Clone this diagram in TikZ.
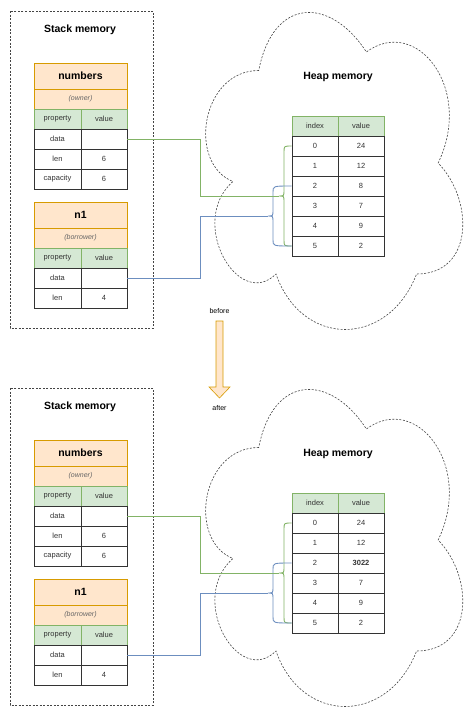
\documentclass[tikz,border=0pt]{standalone}
\usepackage{fontspec}
\setmainfont{Liberation Sans}
\definecolor{ofill}{HTML}{FFE6CC}
\definecolor{oline}{HTML}{D79B00}
\definecolor{gfill}{HTML}{D5E8D4}
\definecolor{gline}{HTML}{82B366}
\definecolor{bline}{HTML}{6C8EBF}
\definecolor{cellline}{HTML}{333333}
\definecolor{txt}{HTML}{333333}
\definecolor{rolegray}{HTML}{666666}
\definecolor{regline}{HTML}{444444}
\tikzset{
 cellbase/.style={draw=cellline, line width=0.7pt, minimum height=20pt, inner sep=0pt, font=\fontsize{7.5}{9}\selectfont, text=txt},
 cell/.style={cellbase, fill=white},
 hdr/.style={cellbase, fill=gfill, draw=gline},
 ttl/.style={cellbase, fill=ofill, draw=oline, minimum width=93pt, minimum height=26pt, font=\bfseries\fontsize{10.5}{12}\selectfont, text=black},
 role/.style={cellbase, fill=ofill, draw=oline, minimum width=93pt, font=\itshape\fontsize{7}{8}\selectfont, text=rolegray},
 lc/.style={minimum width=47pt},
 rc/.style={minimum width=46pt},
 hc/.style={minimum width=46pt},
 region/.style={draw=regline, dash pattern=on 2pt off 1.5pt, line width=0.6pt},
 regtitle/.style={font=\bfseries\fontsize{10.5}{12}\selectfont, inner sep=0pt},
 lbl/.style={font=\fontsize{7}{8}\selectfont, text=black, inner sep=0pt},
 gwire/.style={draw=gline, line width=0.9pt},
 bwire/.style={draw=bline, line width=0.9pt},
}
\newcommand\memhalf[1]{%
  % heap cloud
  \draw[region] (258.75,70.5) .. controls (201.35,70.5) and (187,163) .. (232.92,181.5)
    .. controls (187,222.2) and (238.66,311) .. (275.97,274)
    .. controls (301.8,348) and (387.9,348) .. (416.6,274)
    .. controls (474,274) and (474,200) .. (438.125,163)
    .. controls (474,89) and (416.6,15) .. (366.375,52)
    .. controls (330.5,-3.5) and (273.1,-3.5) .. (258.75,70.5) -- cycle;
  \node[regtitle] (heapt) at (338,77) {Heap memory};
  % stack region
  \draw[region] (10,11) rectangle (153,328);
  \node[regtitle] (stackt) at (80,30) {Stack memory};
  % numbers
  \node[ttl] (nt) at (80.5,76) {numbers};
  \node[role] (no) at (80.5,99) {(owner)};
  \node[hdr,lc] (nhp) at (57.5,119) {property};
  \node[hdr,rc] (nhv) at (104,119) {value};
  \node[cell,lc] (ndp) at (57.5,139) {data};
  \node[cell,rc] (ndv) at (104,139) {};
  \node[cell,lc] (nlp) at (57.5,159) {len};
  \node[cell,rc] (nlv) at (104,159) {6};
  \node[cell,lc] (ncp) at (57.5,179) {capacity};
  \node[cell,rc] (ncv) at (104,179) {6};
  % n1
  \node[ttl] (mt) at (80.5,215) {n1};
  \node[role] (mo) at (80.5,238) {(borrower)};
  \node[hdr,lc] (mhp) at (57.5,258) {property};
  \node[hdr,rc] (mhv) at (104,258) {value};
  \node[cell,lc] (mdp) at (57.5,278) {data};
  \node[cell,rc] (mdv) at (104,278) {};
  \node[cell,lc] (mlp) at (57.5,298) {len};
  \node[cell,rc] (mlv) at (104,298) {4};
  % heap table
  \node[hdr,hc] (hhi) at (315,126) {index};
  \node[hdr,hc] (hhv) at (361,126) {value};
  \node[cell,hc] (h0i) at (315,146) {0}; \node[cell,hc] (h0v) at (361,146) {24};
  \node[cell,hc] (h1i) at (315,166) {1}; \node[cell,hc] (h1v) at (361,166) {12};
  \node[cell,hc] (h2i) at (315,186) {2}; \node[cell,hc] (h2v) at (361,186) {#1};
  \node[cell,hc] (h3i) at (315,206) {3}; \node[cell,hc] (h3v) at (361,206) {7};
  \node[cell,hc] (h4i) at (315,226) {4}; \node[cell,hc] (h4v) at (361,226) {9};
  \node[cell,hc] (h5i) at (315,246) {5}; \node[cell,hc] (h5v) at (361,246) {2};
  % braces and wires
  \coordinate (gtip) at (279,196);
  \coordinate (btip) at (268,216);
  \draw[gwire] (h0i.west) .. controls (284,146) .. (284,152) -- (284,190)
     .. controls (284,196) .. (gtip) .. controls (284,196) .. (284,202) -- (284,240)
     .. controls (284,246) .. (h5i.west);
  \draw[bwire] (h2i.west) .. controls (273,186) .. (273,192) -- (273,210)
     .. controls (273,216) .. (btip) .. controls (273,216) .. (273,222) -- (273,240)
     .. controls (273,246) .. (h5i.west);
  \draw[gwire] (ndv.east) -- ++(73,0) |- (gtip);
  \draw[bwire] (mdv.east) -- ++(73,0) |- (btip);
}
\begin{document}
\begin{tikzpicture}[x=1pt,y=-1pt]
  \useasboundingbox (0,0) rectangle (474,718);
  \begin{scope}[name prefix=a-]
    \memhalf{8}
  \end{scope}
  \begin{scope}[yshift=-377pt, name prefix=b-]
    \memhalf{\textbf{3022}}
  \end{scope}
  \node[lbl] (bef) at (219.5,311) {before};
  \node[lbl] (aft) at (219.5,408) {after};
  \draw[fill=ofill, draw=oline, line width=0.6pt] (216,321) -- (223,321) -- (223,387) -- (230,387) -- (219.5,398) -- (209,387) -- (216,387) -- cycle;
\end{tikzpicture}
\end{document}
